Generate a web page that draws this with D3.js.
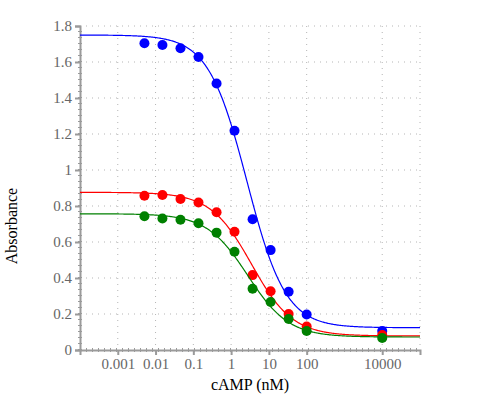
<!DOCTYPE html>
<html>
<head>
<meta charset="utf-8">
<script src="https://cdn.jsdelivr.net/npm/d3@7"></script>
<style>
  body { margin: 0; background: #fff; }
</style>
</head>
<body>
<svg id="chart" width="500" height="400"></svg>
<script>
// concentrations (nM), 3-fold dilution series plus one high point
const conc = [0.00508, 0.0152, 0.0457, 0.137, 0.412, 1.23, 3.70, 11.1, 33.3, 100, 10000];

const blueVals  = [1.704, 1.694, 1.676, 1.628, 1.481, 1.218, 0.726, 0.555, 0.324, 0.197, 0.106];
const redVals   = [0.857, 0.861, 0.839, 0.819, 0.765, 0.657, 0.416, 0.326, 0.200, 0.130, 0.083];
const greenVals = [0.743, 0.731, 0.724, 0.704, 0.652, 0.546, 0.340, 0.267, 0.172, 0.106, 0.067];

// fitted 4-parameter logistic curves: [top, bottom, EC50, hill]
const blueFit  = [1.750, 0.124, 2.63, 0.85];
const redFit   = [0.876, 0.078, 3.47, 0.80];
const greenFit = [0.757, 0.072, 2.75, 0.80];

const yTicks = [0, 0.2, 0.4, 0.6, 0.8, 1, 1.2, 1.4, 1.6, 1.8];
const xTicks = [0.001, 0.01, 0.1, 1, 10, 100, 10000];
const xTickLabels = ["0.001", "0.01", "0.1", "1", "10", "100", "10000"];
const xGrid = [0.001, 0.01, 0.1, 1, 10, 100, 10000, 100000];

const series = [
  { vals: blueVals, fit: blueFit, color: "#0000ff" },
  { vals: redVals, fit: redFit, color: "#ff0000" },
  { vals: greenVals, fit: greenFit, color: "#008000" }
];

const serif = "'Liberation Serif', 'DejaVu Serif', 'Times New Roman', serif";

const svg = d3.select("#chart");
const plotL = 80, plotR = 420, plotT = 26, plotB = 350;

const x = d3.scaleLog().domain([1e-4, 1e5]).range([plotL, plotR]);
const y = d3.scaleLinear().domain([0, 1.8]).range([plotB, plotT]);

// grid
const grid = svg.append("g")
  .attr("stroke", "#b5b5b5")
  .attr("stroke-width", 1)
  .attr("stroke-dasharray", "1,5");

grid.selectAll("line.h")
  .data(yTicks.filter(d => d > 0))
  .join("line")
  .attr("class", "h")
  .attr("x1", plotL).attr("x2", plotR)
  .attr("y1", d => y(d)).attr("y2", d => y(d));

grid.selectAll("line.v")
  .data(xGrid)
  .join("line")
  .attr("class", "v")
  .attr("x1", d => x(d)).attr("x2", d => x(d))
  .attr("y1", plotT).attr("y2", plotB);

// axes
const axisColor = "#9a9a9a";

const yAxis = svg.append("g")
  .attr("transform", `translate(${plotL},0)`)
  .call(d3.axisLeft(y).tickValues(yTicks).tickSize(5).tickPadding(3).tickFormat(d => String(d)));

const xAxis = svg.append("g")
  .attr("transform", `translate(0,${plotB})`)
  .call(d3.axisBottom(x).tickValues(xTicks).tickSize(5).tickPadding(3)
    .tickFormat((d, i) => xTickLabels[i]));

[xAxis, yAxis].forEach(g => {
  g.attr("font-family", serif).attr("font-size", 15);
  g.select(".domain").attr("stroke", axisColor).attr("stroke-width", 2);
  g.selectAll(".tick line").attr("stroke", axisColor).attr("stroke-width", 2);
  g.selectAll(".tick text")
    .attr("fill", "#666")
    .attr("font-family", serif);
});

// minor tick marks along both axes
svg.append("line")
  .attr("x1", plotL).attr("x2", plotL)
  .attr("y1", plotB).attr("y2", plotT)
  .attr("stroke", axisColor).attr("stroke-width", 4)
  .attr("stroke-dasharray", "1,5");
svg.append("line")
  .attr("x1", plotL).attr("x2", plotR)
  .attr("y1", plotB).attr("y2", plotB)
  .attr("stroke", axisColor).attr("stroke-width", 4)
  .attr("stroke-dasharray", "1,5");

// curves and points
const logistic = (c, p) => p[1] + (p[0] - p[1]) / (1 + Math.pow(c / p[2], p[3]));
const curveX = d3.range(-4, 5.0001, 0.02).map(l => Math.pow(10, l));
const line = d3.line().x(d => x(d[0])).y(d => y(d[1]));

series.forEach(s => {
  svg.append("path")
    .datum(curveX.map(c => [c, logistic(c, s.fit)]))
    .attr("fill", "none")
    .attr("stroke", s.color)
    .attr("stroke-width", 1.2)
    .attr("d", line);

  svg.append("g")
    .selectAll("circle")
    .data(s.vals)
    .join("circle")
    .attr("cx", (d, i) => x(conc[i]))
    .attr("cy", d => y(d))
    .attr("r", 5)
    .attr("fill", s.color);
});

// axis titles
svg.append("text")
  .attr("x", (plotL + plotR) / 2)
  .attr("y", 390)
  .attr("text-anchor", "middle")
  .attr("font-family", serif)
  .attr("font-size", 16)
  .attr("fill", "#000")
  .text("cAMP (nM)");

svg.append("text")
  .attr("transform", "translate(17,226) rotate(-90)")
  .attr("text-anchor", "middle")
  .attr("font-family", serif)
  .attr("font-size", 16)
  .attr("fill", "#000")
  .text("Absorbance");
</script>
</body>
</html>
